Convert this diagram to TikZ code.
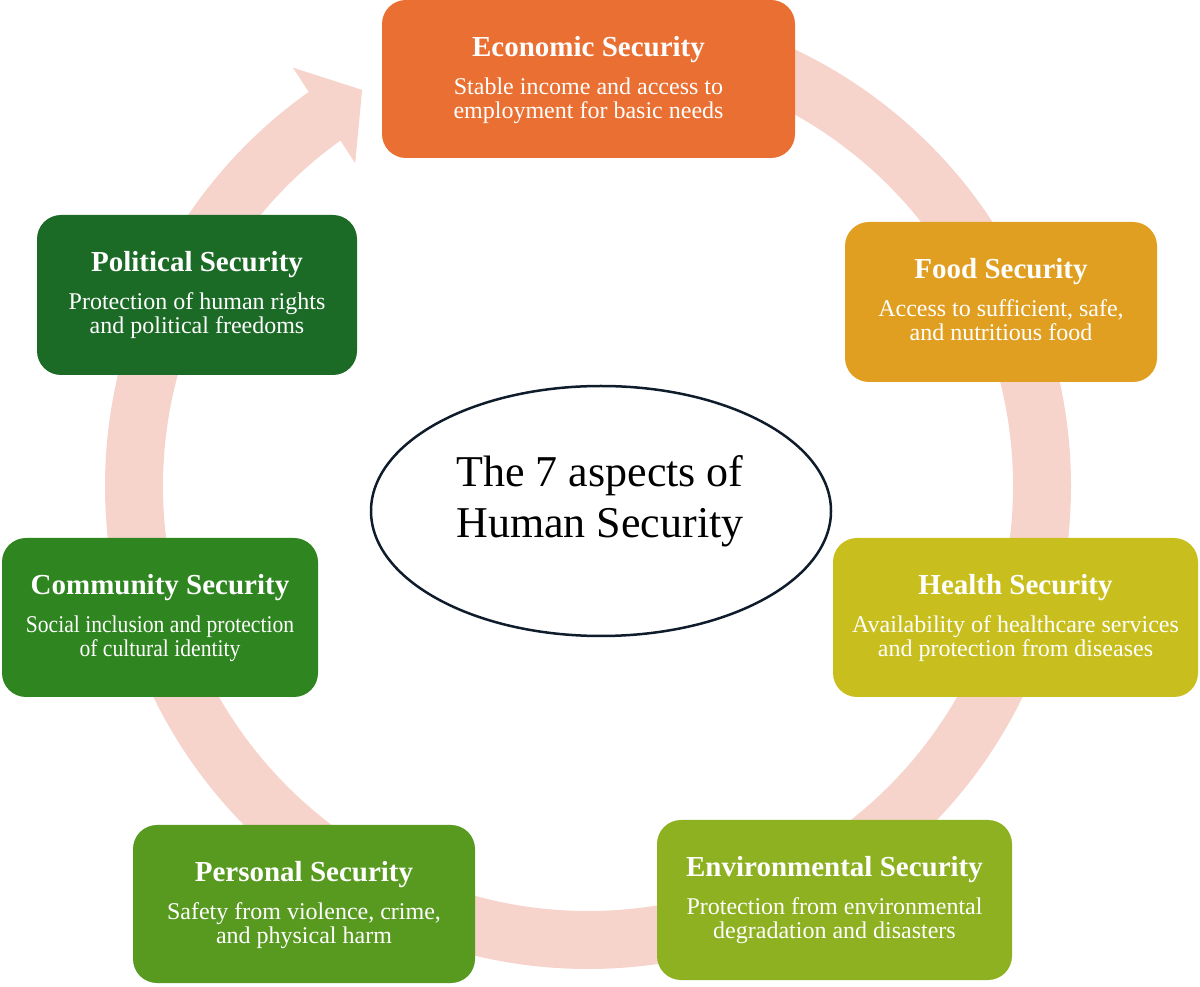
\documentclass[tikz,border=0pt]{standalone}
\usepackage{fontspec}
\setmainfont{Liberation Serif}
\newfontfamily\condfont[FakeStretch=0.9]{Liberation Serif}
\usetikzlibrary{calc,shapes.geometric}
\definecolor{ringc}{HTML}{F6D4CC}
\definecolor{ecoc}{HTML}{E97032}
\definecolor{foodc}{HTML}{E09F20}
\definecolor{healthc}{HTML}{C8BF1E}
\definecolor{envc}{HTML}{8DB121}
\definecolor{persc}{HTML}{589A1F}
\definecolor{commc}{HTML}{2F8520}
\definecolor{polc}{HTML}{1B6B27}
\definecolor{ellc}{HTML}{0F1C2B}
\newcommand\secbox[9]{%
  \node[hbox, fill=#2, minimum width=#5, minimum height=#6] (#1) at (#3,#4) {};
  \node[ttl] (#1-t) at ($(#1.north)+(0,-57)$) {#7};
  \node[sub] (#1-s) at ($(#1.north)+(0,-119)$) {#8\\#9};
}
\begin{document}
\begin{tikzpicture}[x=1pt,y=1pt,
  hbox/.style={draw=none, rounded corners=24pt, inner sep=0pt, shape=rectangle},
  ttl/.style={anchor=base, text=white, inner sep=0pt, font=\bfseries\fontsize{29}{34}\selectfont},
  sub/.style={anchor=base, text=white, inner sep=0pt, align=center, font=\fontsize{24}{24.5}\selectfont},
  hub/.style={draw=ellc, line width=2.5pt, ellipse, inner sep=0pt, minimum width=460, minimum height=250},
  hubtext/.style={anchor=base, inner sep=0pt, align=center, font=\fontsize{44}{51}\selectfont}
]
\useasboundingbox (0,0) rectangle (1200,986);
\coordinate (C) at (588,500);
% circular arrow ring
\draw[ringc, line width=58pt] ($(C)+(90:454)$) arc[start angle=90, end angle=-235.0, radius=454];
\fill[ringc] ($(C)+(125.2:512)$) -- ($(C)+(119.7:456)$) -- ($(C)+(125.8:398)$) -- cycle;
% boxes
\secbox{eco}{ecoc}{588.5}{907}{413}{158}{Economic Security}{Stable income and access to}{employment for basic needs}
\secbox{food}{foodc}{1001}{684}{312}{160}{Food Security}{Access to sufficient, safe,}{and nutritious food}
\secbox{health}{healthc}{1015.5}{368.5}{365}{159}{Health Security}{Availability of healthcare services}{and protection from diseases}
\secbox{env}{envc}{834.5}{86}{355}{160}{Environmental Security}{Protection from environmental}{degradation and disasters}
\secbox{pers}{persc}{304}{82}{342}{158}{Personal Security}{Safety from violence, crime,}{and physical harm}
\secbox{comm}{commc}{160}{368.5}{316}{159}{Community Security}{\condfont Social inclusion and protection}{\condfont of cultural identity}
\secbox{pol}{polc}{197}{691}{320}{160}{Political Security}{Protection of human rights}{and political freedoms}
% centre
\node[hub] (hub) at (601,475) {};
\node[hubtext] (hub-t) at (600,448) {The 7 aspects of\\Human Security};
\end{tikzpicture}
\end{document}
